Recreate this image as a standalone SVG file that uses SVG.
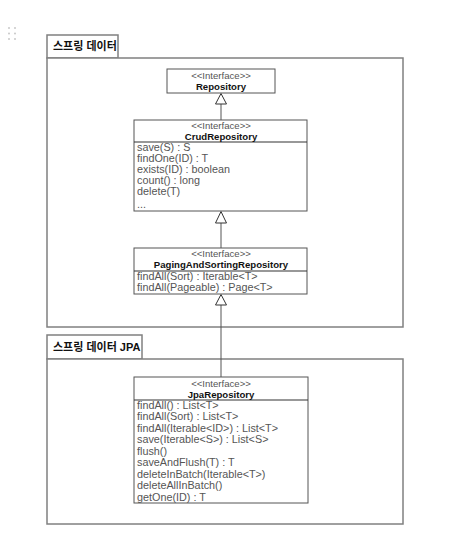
<svg xmlns="http://www.w3.org/2000/svg" width="474" height="552" viewBox="0 0 474 552">
<style>
text{font-family:"Liberation Sans","Noto Sans CJK KR",sans-serif}
.pkg{fill:#fff;stroke:#808080;stroke-width:1.5}
.pkglabel{font-size:11px;font-weight:bold;fill:#111}
.box{fill:#fff;stroke:#555;stroke-width:1}
.sep{stroke:#333;stroke-width:1.2}
.st{font-size:9.6px;fill:#555;text-anchor:middle}
.nm{font-size:9.6px;font-weight:bold;fill:#111;text-anchor:middle}
.m{font-size:10.8px;fill:#555}
.edge{stroke:#555;stroke-width:1;fill:none}
.tri{fill:#fff;stroke:#333;stroke-width:1}
.dot{fill:#c8c8c8}
</style>
<rect width="474" height="552" fill="#fff"/>
<g id="handle">
<circle class="dot" cx="9" cy="28" r="1"/><circle class="dot" cx="15" cy="28" r="1"/>
<circle class="dot" cx="9" cy="33.5" r="1"/><circle class="dot" cx="15" cy="33.5" r="1"/>
<circle class="dot" cx="9" cy="39" r="1"/><circle class="dot" cx="15" cy="39" r="1"/>
</g>
<g id="pkg-spring-data">
<rect class="pkg" x="47" y="35" width="71" height="23"/>
<rect class="pkg" x="47" y="58" width="356" height="269"/>
<text class="pkglabel" x="53" y="50">스프링 데이터</text>
</g>
<g id="pkg-spring-data-jpa">
<rect class="pkg" x="47" y="335" width="95" height="24"/>
<rect class="pkg" x="47" y="359" width="356" height="165"/>
<text class="pkglabel" x="53" y="351">스프링 데이터 JPA</text>
</g>
<g id="connectors">
<line class="edge" x1="221" y1="104" x2="221" y2="120"/>
<polygon class="tri" points="221,93.5 215.5,104 226.5,104"/>
<line class="edge" x1="221" y1="223" x2="221" y2="248"/>
<polygon class="tri" points="221,211.5 215.5,223 226.5,223"/>
<line class="edge" x1="221" y1="305" x2="221" y2="377"/>
<polygon class="tri" points="221,294.5 215.5,305 226.5,305"/>
</g>
<g id="Repository">
<rect class="box" x="167" y="69" width="108" height="24"/>
<text class="st" x="221" y="79">&lt;&lt;Interface&gt;&gt;</text>
<text class="nm" x="221" y="90">Repository</text>
</g>
<g id="CrudRepository">
<rect class="box" x="134" y="120" width="173" height="91"/>
<line class="sep" x1="134" y1="142" x2="307" y2="142"/>
<text class="st" x="221" y="129">&lt;&lt;Interface&gt;&gt;</text>
<text class="nm" x="221" y="140">CrudRepository</text>
<text class="m" x="137" y="151">save(S) : S</text>
<text class="m" x="137" y="162">findOne(ID) : T</text>
<text class="m" x="137" y="173">exists(ID) : boolean</text>
<text class="m" x="137" y="184">count() : long</text>
<text class="m" x="137" y="195">delete(T)</text>
<text class="m" x="137" y="207.5" font-size="8.5px">...</text>
</g>
<g id="PagingAndSortingRepository">
<rect class="box" x="134" y="248" width="173" height="46"/>
<line class="sep" x1="134" y1="271" x2="307" y2="271"/>
<text class="st" x="221" y="257">&lt;&lt;Interface&gt;&gt;</text>
<text class="nm" x="221" y="268">PagingAndSortingRepository</text>
<text class="m" x="137" y="280">findAll(Sort) : Iterable&lt;T&gt;</text>
<text class="m" x="137" y="291">findAll(Pageable) : Page&lt;T&gt;</text>
</g>
<g id="JpaRepository">
<rect class="box" x="134" y="377" width="174" height="126"/>
<line class="sep" x1="134" y1="400" x2="308" y2="400"/>
<text class="st" x="221" y="387">&lt;&lt;Interface&gt;&gt;</text>
<text class="nm" x="221" y="397.5">JpaRepository</text>
<text class="m" x="137" y="408.5">findAll() : List&lt;T&gt;</text>
<text class="m" x="137" y="420">findAll(Sort) : List&lt;T&gt;</text>
<text class="m" x="137" y="431.5">findAll(Iterable&lt;ID&gt;) : List&lt;T&gt;</text>
<text class="m" x="137" y="443">save(Iterable&lt;S&gt;) : List&lt;S&gt;</text>
<text class="m" x="137" y="454.5">flush()</text>
<text class="m" x="137" y="466">saveAndFlush(T) : T</text>
<text class="m" x="137" y="477.5">deleteInBatch(Iterable&lt;T&gt;)</text>
<text class="m" x="137" y="489">deleteAllInBatch()</text>
<text class="m" x="137" y="500.5">getOne(ID) : T</text>
</g>
</svg>
